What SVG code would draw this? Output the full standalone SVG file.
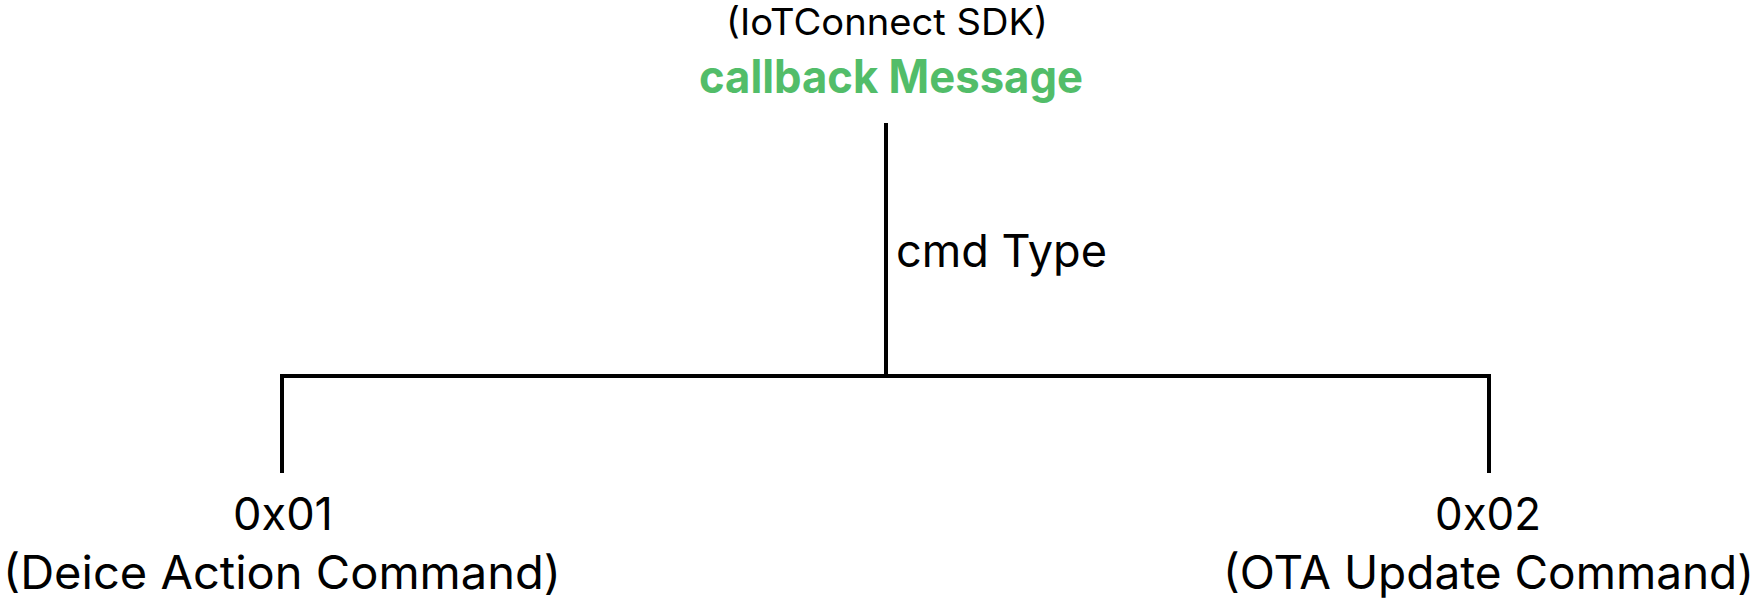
<svg xmlns="http://www.w3.org/2000/svg" width="1759" height="602" viewBox="0 0 1759 602">
<style>
.t{font-family:Inter,"Liberation Sans",Arial,sans-serif;fill:#000;text-anchor:middle}
.g{font-family:Inter,"Liberation Sans",Arial,sans-serif;fill:#52BD69;font-weight:bold;text-anchor:middle}
.c{stroke:#000;stroke-width:4;fill:none}
</style>
<rect width="1759" height="602" fill="#fff"/>
<g id="connectors">
<line class="c" x1="886" y1="123" x2="886" y2="376"/>
<polyline class="c" points="282,473 282,376 1489,376 1489,473"/>
<text class="t" x="1001.5" y="267" font-size="45" textLength="211" lengthAdjust="spacingAndGlyphs">cmd Type</text>
</g>
<g id="root">
<text class="t" x="887" y="35" font-size="37" textLength="322" lengthAdjust="spacingAndGlyphs">(IoTConnect SDK)</text>
<text class="g" x="891" y="93" font-size="46" textLength="384" lengthAdjust="spacingAndGlyphs">callback Message</text>
</g>
<g id="node1">
<text class="t" x="283" y="530" font-size="45" textLength="100" lengthAdjust="spacingAndGlyphs">0x01</text>
<text class="t" x="282" y="589" font-size="46" textLength="558" lengthAdjust="spacingAndGlyphs">(Deice Action Command)</text>
</g>
<g id="node2">
<text class="t" x="1488" y="530" font-size="45" textLength="106" lengthAdjust="spacingAndGlyphs">0x02</text>
<text class="t" x="1488.5" y="589" font-size="46" textLength="531" lengthAdjust="spacingAndGlyphs">(OTA Update Command)</text>
</g>
</svg>
